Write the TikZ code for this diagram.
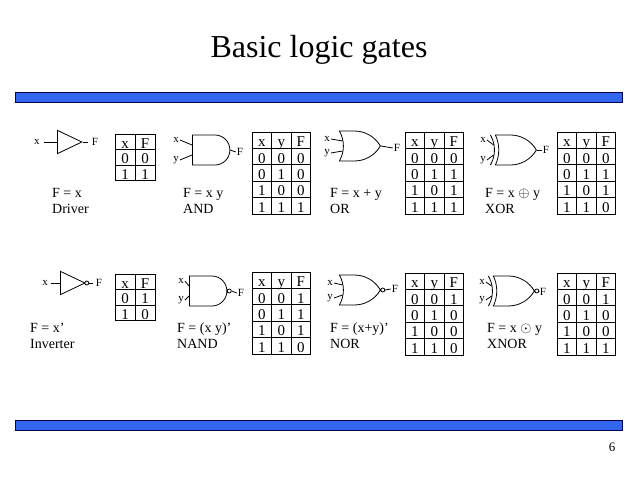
\documentclass[tikz,border=0pt]{standalone}
\usepackage{fontspec}
\setmainfont{Liberation Serif}
\usetikzlibrary{shapes.gates.logic.US}
\definecolor{barblue}{HTML}{3366EE}
% #1 name, #2 x, #3 y, #4 cols, #5 rows, #6 w, #7 h, #8 entries row-major
\newcommand{\ttable}[8]{%
  \draw[line width=0.8pt] (#2,#3) rectangle ++(#4*#6,#5*#7);
  \foreach \i in {1,...,\numexpr#4-1\relax} \draw[line width=0.8pt] (#2+\i*#6,#3) -- ++(0,#5*#7);
  \foreach \j in {1,...,\numexpr#5-1\relax} \draw[line width=0.8pt] (#2,#3+\j*#7) -- ++(#4*#6,0);
  \foreach \e [count=\k from 0] in {#8} {
    \pgfmathtruncatemacro{\cc}{mod(\k,#4)}
    \pgfmathtruncatemacro{\rr}{div(\k,#4)}
    \node[ttc] (#1-\rr-\cc) at (#2+\cc*#6+0.5*#6,#3+\rr*#7+0.5*#7) {\e};
  }
}
\tikzset{
  x=1pt,y=-1pt,
  lbl/.style={font=\fontsize{11}{12}\selectfont,inner sep=1pt},
  capt/.style={font=\fontsize{14}{16}\selectfont,align=left,anchor=north west,inner sep=0pt},
  gate/.style={draw,line width=0.8pt,logic gate inputs=nn,minimum height=30pt,minimum width=30pt},
  wire/.style={line width=0.8pt},
  ttc/.style={inner sep=0pt,text height=10pt,text depth=0pt,yshift=-1.5pt,font=\fontsize{15}{16}\selectfont},
  bar/.style={fill=barblue,draw=black!70!blue,line width=0.8pt}
}
\begin{document}
\begin{tikzpicture}
\useasboundingbox (0,0) rectangle (638,478);
\node[font=\fontsize{32}{34}\selectfont] (title) at (319,50) {Basic logic gates};
\draw[bar] (15,92) rectangle (622,102);
\draw[bar] (15,420) rectangle (622,430);
\node[font=\fontsize{13}{14}\selectfont] (pg) at (612,447) {6};

% Driver
\node[buffer gate US,draw,line width=0.8pt,minimum width=22pt,minimum height=20pt,anchor=west] (buf) at (57,142) {};
\node[lbl] (bx) at (37,142) {x}; \node[lbl] (bF) at (95,142) {F};
\draw[wire] ([xshift=3]bx.east) -- (buf.input); \draw[wire] (buf.output) -- ([xshift=-3]bF.west);
\ttable{t1}{115}{134}{2}{3}{20}{15.5}{x,F,0,0,1,1}
\node[capt] (c1) at (52,188) {F = x\\Driver};

% AND
\node[and gate US,gate,anchor=west] (and) at (192,150) {};
\node[lbl] (ax) at (176,140) {x}; \node[lbl] (ay) at (176,160) {y}; \node[lbl] (aF) at (240,152) {F};
\draw[wire] (ax.east) -- (and.input 1); \draw[wire] (ay.east) -- (and.input 2); \draw[wire] (and.output) -- (aF.west);
\ttable{t2}{252}{132}{3}{5}{19.5}{16.4}{x,y,F,0,0,0,0,1,0,1,0,0,1,1,1}
\node[capt] (c2) at (183,188) {F = x y\\AND};

% OR
\node[or gate US,gate,anchor=west,minimum width=34pt] (or) at (343,146) {};
\node[lbl] (ox) at (327,139) {x}; \node[lbl] (oy) at (327,153) {y}; \node[lbl] (oF) at (397,148) {F};
\draw[wire] (ox.east) -- (or.input 1); \draw[wire] (oy.east) -- (or.input 2); \draw[wire] (or.output) -- (oF.west);
\ttable{t3}{405}{132}{3}{5}{19.5}{16.4}{x,y,F,0,0,0,0,1,1,1,0,1,1,1,1}
\node[capt] (c3) at (330,188) {F = x + y\\OR};

% XOR
\node[xor gate US,gate,anchor=west,minimum width=34pt] (xor) at (494,150) {};
\node[lbl] (xx) at (483,140) {x}; \node[lbl] (xy) at (483,160) {y}; \node[lbl] (xF) at (546,150) {F};
\draw[wire] (xx.east) -- (xor.input 1); \draw[wire] (xy.east) -- (xor.input 2); \draw[wire] (xor.output) -- (xF.west);
\ttable{t4}{557}{132}{3}{5}{19.5}{16.4}{x,y,F,0,0,0,0,1,1,1,0,1,1,1,0}
\node[capt] (c4) at (485,188) {F = x $\oplus$ y\\XOR};

% Inverter
\node[not gate US,draw,line width=0.8pt,minimum width=20pt,minimum height=20pt,anchor=west] (inv) at (60,283) {};
\node[lbl] (ix) at (45,283) {x}; \node[lbl] (iF) at (99,283) {F};
\draw[wire] ([xshift=2]ix.east) -- (inv.input); \draw[wire] (inv.output) -- ([xshift=-2]iF.west);
\ttable{t5}{115}{274}{2}{3}{20}{15.5}{x,F,0,1,1,0}
\node[capt] (c5) at (30,323) {F = x’\\Inverter};

% NAND
\node[nand gate US,gate,anchor=west,minimum width=32pt] (nand) at (189,291) {};
\node[lbl] (nx) at (181,281) {x}; \node[lbl] (ny) at (181,300) {y}; \node[lbl] (nF) at (241,293) {F};
\draw[wire] (nx.east) -- (nand.input 1); \draw[wire] (ny.east) -- (nand.input 2); \draw[wire] (nand.output) -- (nF.west);
\ttable{t6}{252}{272}{3}{5}{19.5}{16.4}{x,y,F,0,0,1,0,1,1,1,0,1,1,1,0}
\node[capt] (c6) at (177,323) {F = (x y)’\\NAND};

% NOR
\node[nor gate US,gate,anchor=west,minimum width=34pt] (nor) at (343,290) {};
\node[lbl] (rx) at (330,283) {x}; \node[lbl] (ry) at (330,298) {y}; \node[lbl] (rF) at (395,289) {F};
\draw[wire] (rx.east) -- (nor.input 1); \draw[wire] (ry.east) -- (nor.input 2); \draw[wire] (nor.output) -- (rF.west);
\ttable{t7}{405}{273}{3}{5}{19.5}{16.4}{x,y,F,0,0,1,0,1,0,1,0,0,1,1,0}
\node[capt] (c7) at (330,323) {F = (x+y)’\\NOR};

% XNOR
\node[xnor gate US,gate,anchor=west,minimum width=32pt] (xnor) at (492,291) {};
\node[lbl] (qx) at (482,282) {x}; \node[lbl] (qy) at (482,300) {y}; \node[lbl] (qF) at (543,292) {F};
\draw[wire] (qx.east) -- (xnor.input 1); \draw[wire] (qy.east) -- (xnor.input 2); \draw[wire] (xnor.output) -- (qF.west);
\ttable{t8}{557}{273}{3}{5}{19.5}{16.4}{x,y,F,0,0,1,0,1,0,1,0,0,1,1,1}
\node[capt] (c8) at (487,323) {F = x $\odot$ y\\XNOR};
\end{tikzpicture}
\end{document}
